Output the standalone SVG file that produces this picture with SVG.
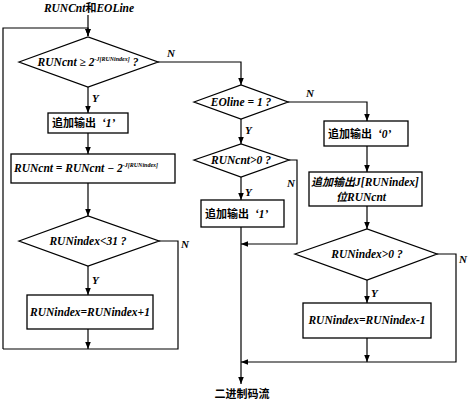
<svg xmlns="http://www.w3.org/2000/svg" width="474" height="402" viewBox="0 0 474 402">
<defs>
<marker id="ah" viewBox="0 0 10 10" refX="10" refY="5" markerWidth="7" markerHeight="7" orient="auto" markerUnits="userSpaceOnUse">
<path d="M0,1 L10,5 L0,9 Z" fill="#000"/>
</marker>
<style>
.s{fill:#fff;stroke:#000;stroke-width:1.3}
.c{fill:none;stroke:#000;stroke-width:1.2}
.a{marker-end:url(#ah)}
.m{font-family:"Liberation Serif","Times New Roman",serif;font-style:italic;font-weight:bold;font-size:11.5px;fill:#000}
.z{font-family:"Noto Sans CJK SC","Liberation Sans",sans-serif;font-weight:bold;font-size:11px;fill:#000}
.l{font-family:"Liberation Serif","Times New Roman",serif;font-style:italic;font-weight:bold;font-size:11px;fill:#000}
</style>
</defs>
<rect width="474" height="402" fill="#fff"/>
<g id="connectors">
<path class="c a" d="M88,15 V36"/>
<path class="c a" d="M3,349 V28 H88 V36"/>
<path class="c a" d="M88,87 V113"/>
<path class="c a" d="M88,133 V154"/>
<path class="c a" d="M88,183 V216"/>
<path class="c a" d="M88,266 V295"/>
<path class="c a" d="M88,329 V349"/>
<path class="c" d="M159,241 H178 V349 H3"/>
<path class="c a" d="M158,62 H241 V85"/>
<path class="c a" d="M241,119 V144"/>
<path class="c a" d="M241,177 V200"/>
<path class="c a" d="M241,227 V384"/>
<path class="c a" d="M289,160 H297 V244 H241"/>
<path class="c a" d="M288,102 H367 V121"/>
<path class="c a" d="M367,146 V172"/>
<path class="c a" d="M367,206 V229"/>
<path class="c a" d="M367,280 V303"/>
<path class="c a" d="M367,338 V362"/>
<path class="c a" d="M437,254 H456 V362 H241"/>
<text class="l" x="167" y="57">N</text>
<text class="l" x="92" y="102">Y</text>
<text class="l" x="181" y="248">N</text>
<text class="l" x="92" y="284">Y</text>
<text class="l" x="306" y="97">N</text>
<text class="l" x="245" y="134">Y</text>
<text class="l" x="287" y="187">N</text>
<text class="l" x="245" y="196">Y</text>
<text class="l" x="459" y="263">N</text>
<text class="l" x="371" y="297">Y</text>
</g>
<g id="start">
<text class="m" x="89" y="12" text-anchor="middle">RUNCnt<tspan class="z" font-style="normal" font-size="10.5">和</tspan>EOLine</text>
</g>
<g id="d1">
<polygon class="s" points="19,62 88,37 158,62 88,87"/>
<text class="m" x="88" y="66" text-anchor="middle">RUNcnt ≥ 2<tspan font-size="6" dy="-5">-J[RUNindex]</tspan><tspan dy="5"> ?</tspan></text>
</g>
<g id="b1">
<rect class="s" x="48" y="113" width="80" height="20"/>
<text class="z" x="52" y="127">追加输出<tspan class="m" dx="6">‘1’</tspan></text>
</g>
<g id="b2">
<rect class="s" x="11" y="154" width="164" height="29"/>
<text class="m" x="14" y="172" font-size="12">RUNcnt = RUNcnt − 2<tspan font-size="6" dy="-5">-J[RUNindex]</tspan></text>
</g>
<g id="d2">
<polygon class="s" points="19,241 88,216 159,241 88,266"/>
<text class="m" x="88" y="245" text-anchor="middle">RUNindex&lt;31 ?</text>
</g>
<g id="b3">
<rect class="s" x="27" y="295" width="126" height="34"/>
<text class="m" x="90" y="316" text-anchor="middle">RUNindex=RUNindex+1</text>
</g>
<g id="d3">
<polygon class="s" points="194,102 241,85 288,102 241,119"/>
<text class="m" x="241" y="106" text-anchor="middle">EOline = 1 ?</text>
</g>
<g id="d4">
<polygon class="s" points="194,160 241,144 289,160 241,177"/>
<text class="m" x="241" y="164" text-anchor="middle">RUNcnt&gt;0 ?</text>
</g>
<g id="b4">
<rect class="s" x="201" y="200" width="83" height="27"/>
<text class="z" x="205" y="218">追加输出<tspan class="m" dx="6">‘1’</tspan></text>
</g>
<g id="b5">
<rect class="s" x="324" y="121" width="84" height="25"/>
<text class="z" x="328" y="138">追加输出<tspan class="m" dx="6">‘0’</tspan></text>
</g>
<g id="b6">
<rect class="s" x="309" y="172" width="113" height="34"/>
<text class="m" x="365" y="186" text-anchor="middle"><tspan class="z" font-style="italic">追加输出</tspan>J[RUNindex]</text>
<text class="m" x="361" y="201" text-anchor="middle"><tspan class="z" font-style="italic">位</tspan>RUNcnt</text>
</g>
<g id="d5">
<polygon class="s" points="295,254 367,229 437,254 367,280"/>
<text class="m" x="367" y="258" text-anchor="middle">RUNindex&gt;0 ?</text>
</g>
<g id="b7">
<rect class="s" x="303" y="303" width="128" height="35"/>
<text class="m" x="367" y="324" text-anchor="middle">RUNindex=RUNindex-1</text>
</g>
<g id="end">
<text class="z" x="242" y="398" text-anchor="middle">二进制码流</text>
</g>
</svg>
